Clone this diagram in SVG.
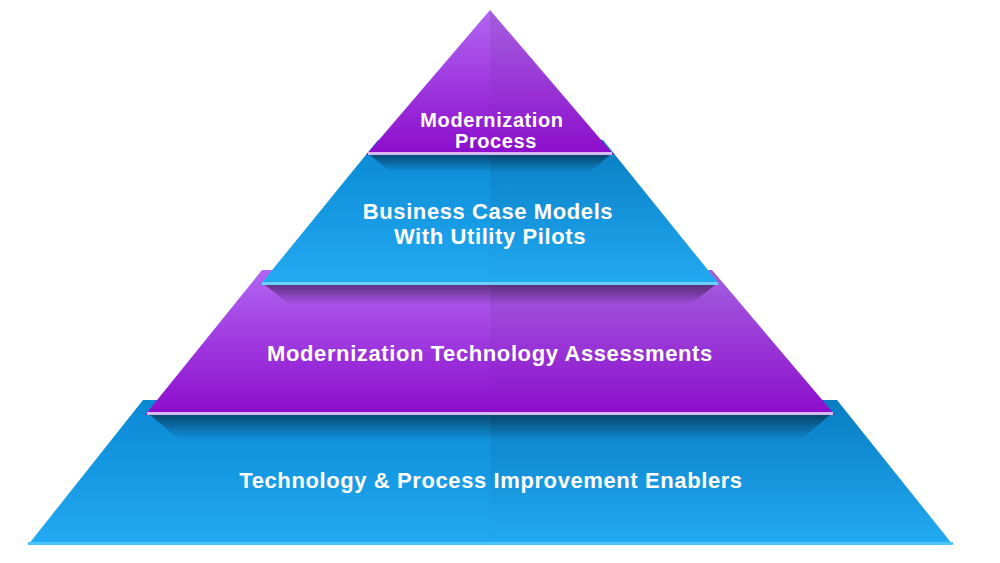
<svg xmlns="http://www.w3.org/2000/svg" width="1000" height="563" viewBox="0 0 1000 563">
<defs>
<linearGradient id="pu" x1="0" y1="0" x2="0" y2="1"><stop offset="0" stop-color="#b266f2"/><stop offset="1" stop-color="#8c0ccc"/></linearGradient>
<linearGradient id="bl" x1="0" y1="0" x2="0" y2="1"><stop offset="0" stop-color="#0a88d4"/><stop offset="1" stop-color="#22aaf2"/></linearGradient>
<linearGradient id="sh" x1="0" y1="0" x2="0" y2="1"><stop offset="0" stop-color="#000" stop-opacity="0.45"/><stop offset="1" stop-color="#000" stop-opacity="0"/></linearGradient>
<linearGradient id="rd" x1="0" y1="0" x2="0" y2="1"><stop offset="0" stop-color="#000" stop-opacity="0.08"/><stop offset="1" stop-color="#000" stop-opacity="0"/></linearGradient>
<style>text{font-family:"Liberation Sans",Arial,sans-serif;font-weight:bold;fill:#fff;text-anchor:middle;font-size:22px;letter-spacing:0.6px}</style>
</defs>
<g id="layer4">
<polygon points="143,400 837,400 953,545 28,545" fill="url(#bl)"/>
<polygon points="490,400 837,400 953,545 490,545" fill="url(#rd)"/>
<rect x="28" y="542" width="925" height="3" fill="#4cc4ff"/>
<text x="491" y="488">Technology &amp; Process Improvement Enablers</text>
</g>
<g id="layer3">
<polygon points="150,415 830,415 800,440 180,440" fill="url(#sh)"/>
<polygon points="262,270 712,270 835,415 145,415" fill="url(#pu)"/>
<polygon points="490,270 712,270 835,415 490,415" fill="url(#rd)"/>
<rect x="147" y="412" width="686" height="3" fill="#d8b8f0"/>
<text x="490" y="361">Modernization Technology Assessments</text>
</g>
<g id="layer2">
<polygon points="265,285 715,285 690,305 290,305" fill="url(#sh)"/>
<polygon points="378,140 603,140 720,285 260,285" fill="url(#bl)"/>
<polygon points="490,140 603,140 720,285 490,285" fill="url(#rd)"/>
<rect x="262" y="282" width="456" height="3" fill="#6ad0ff"/>
<text x="488" y="219">Business Case Models</text>
<text x="490" y="244">With Utility Pilots</text>
</g>
<g id="layer1">
<polygon points="370,155 610,155 590,172 390,172" fill="url(#sh)"/>
<polygon points="490,10 614,155 366,155" fill="url(#pu)"/>
<polygon points="490,10 614,155 490,155" fill="url(#rd)"/>
<rect x="368" y="152" width="244" height="3" fill="#d8b8f0"/>
<text x="492" y="127" style="font-size:20px">Modernization</text>
<text x="496" y="148" style="font-size:20px">Process</text>
</g>
</svg>
